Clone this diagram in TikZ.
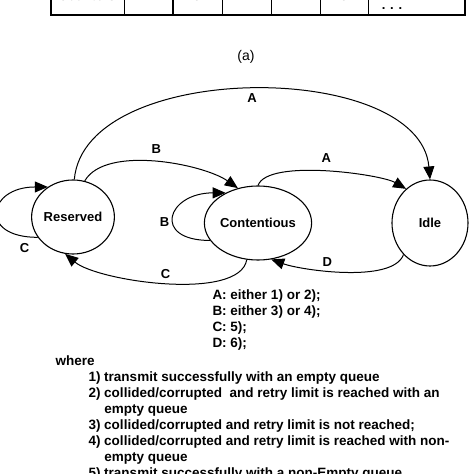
\documentclass[tikz,border=0pt]{standalone}
\usepackage{fontspec}
\setmainfont{Liberation Sans}
\usetikzlibrary{shapes.geometric,arrows.meta}
\begin{document}
\begin{tikzpicture}[x=1pt, y=1pt, line width=1pt,
  font=\fontsize{13}{16}\selectfont\bfseries,
  state/.style={draw, ellipse, inner sep=0pt, line width=1.1pt},
  tip/.style={-{Triangle[length=13pt,width=11pt]}},
  cell/.style={anchor=base, inner sep=0pt},
  txt/.style={anchor=base west, inner sep=0pt, align=left,
    font=\fontsize{13.5}{16}\selectfont\bfseries}]
\clip (0,0) rectangle (474,474);
% table, cut off at the top
\draw[line width=2.5pt] (51,490) |- (465,459) -- (465,490);
\foreach \x in {124,222,271,320,368} \draw (\x,459) -- (\x,490);
\draw[line width=2.5pt] (173,459) -- (173,490);
\node[cell](cnt) at (87,473) {Counters};
\foreach \x/\v in {148/1,197/3,246/2,295/1,344/3} \node[cell] at (\x,473) {\v};
\node[cell](dots) at (392,464) {. . .};
\node(cap) at (246,417) {\mdseries\fontsize{14}{16}\selectfont (a)};
% states
\node[state, minimum width=80pt, minimum height=74pt](R) at (73,257) {Reserved};
\node[state, minimum width=100pt, minimum height=74pt](C) at (258,251) {Contentious};
\node[state, minimum width=76pt, minimum height=86pt](I) at (430,251) {Idle};
\path[tip]
(R.88) edge[out=85, in=95, looseness=0.87] node[below]{A} (I.north)
(R.72) edge[out=60, in=145, looseness=0.7] node[above=5pt]{B} (C.120)
(C.north) edge[out=70, in=150, looseness=0.5] node[above=5pt]{A} (I.125)
(I.230) edge[out=-110, in=-20, looseness=0.6] node[pos=0.6, above]{D} (C.290)
(C.253) edge[out=-100, in=-40, looseness=0.6] node[above]{C} (R.258)
(R.210) edge[out=180, in=180, looseness=3] node[pos=0.08, below=3pt]{C} (R.130)
(C.200) edge[out=180, in=180, looseness=3] node[pos=0.42, left]{B} (C.137);
% legend (base anchor = last line)
\node[txt](key) at (212,126)
  {A: either 1) or 2);\\B: either 3) or 4);\\C: 5);\\D: 6);};
\node[txt](where) at (55,108) {where};
\node[txt](list) at (88,-3.5)
  {1) transmit successfully with an empty queue\\
   2) collided/corrupted\ \ and retry limit is reached with an\\
   \phantom{2) }empty queue\\
   3) collided/corrupted and retry limit is not reached;\\
   4) collided/corrupted and retry limit is reached with non-\\
   \phantom{4) }empty queue\\
   5) transmit successfully with a non-Empty queue};
\end{tikzpicture}
\end{document}
